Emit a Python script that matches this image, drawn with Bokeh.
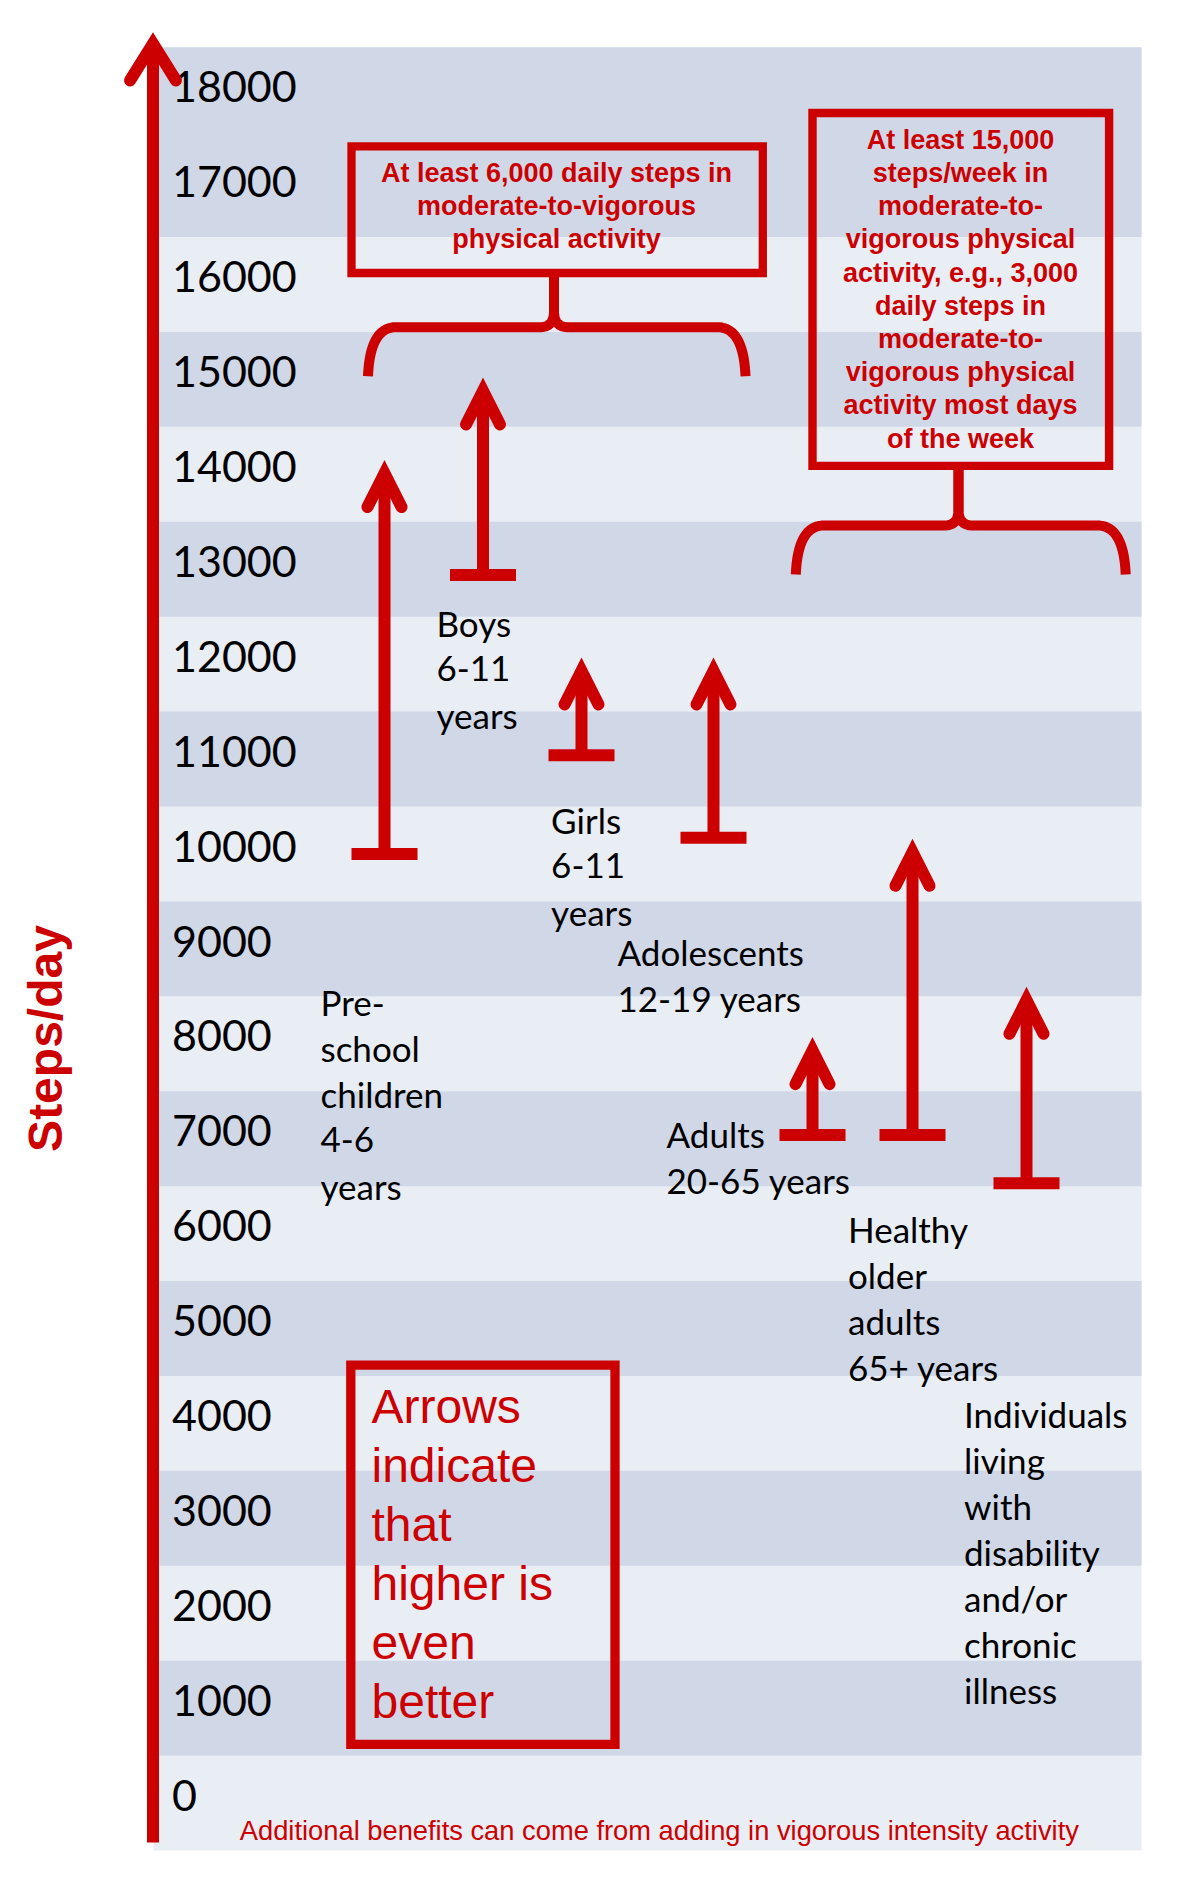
import numpy as np
from bokeh.plotting import figure
from bokeh.models import Range1d, ColumnDataSource
from bokeh.core.properties import value
from bokeh.embed import file_html
from bokeh.resources import INLINE

# ------------------------------------------------------------------ data
tick_values = list(range(0, 19000, 1000))
tick_labels = [str(v) for v in tick_values]

group_names = [
    "Pre-school children 4-6 years",
    "Boys 6-11 years",
    "Girls 6-11 years",
    "Adolescents 12-19 years",
    "Adults 20-65 years",
    "Healthy older adults 65+ years",
    "Individuals living with disability and/or chronic illness",
]
group_label_lines = [
    ["Pre-", "school", "children", "4-6", "years"],
    ["Boys", "6-11", "years"],
    ["Girls", "6-11", "years"],
    ["Adolescents", "12-19 years"],
    ["Adults", "20-65 years"],
    ["Healthy", "older", "adults", "65+ years"],
    ["Individuals", "living", "with", "disability", "and/or", "chronic", "illness"],
]
steps_low = [10000, 12940, 11040, 10170, 7040, 7040, 6530]
steps_high = [14150, 15020, 12070, 12070, 8070, 10160, 8600]

note_children = ["At least 6,000 daily steps in", "moderate-to-vigorous", "physical activity"]
note_adults = ["At least 15,000", "steps/week in", "moderate-to-", "vigorous physical",
               "activity, e.g., 3,000", "daily steps in", "moderate-to-",
               "vigorous physical", "activity most days", "of the week"]
note_arrows = ["Arrows", "indicate", "that", "higher is", "even", "better"]
footer_text = "Additional benefits can come from adding in vigorous intensity activity"
y_title = "Steps/day"

# ------------------------------------------------------------------ layout / style
RED = "#CC0000"
DARK = "#D0D8E8"
LIGHT = "#E9EDF4"
W, H = 1190, 1880
PX = 0.094911          # pixels per step
TOP = 46.7             # page pixel row of 18500 steps
K_LATO = 0.39          # baseline correction (fraction of font size)
K_LIB = 0.34


def Y(py):
    return 18500 - (py - TOP) / PX


def D(dp):
    return dp / PX


def TY(py, size, k):
    return Y(py - k * size)


p = figure(width=W, height=H, output_backend="svg", toolbar_location=None,
           x_range=Range1d(0, W), y_range=Range1d(Y(H), Y(0)),
           x_axis_location=None, y_axis_location=None, min_border=0)
p.xgrid.visible = False
p.ygrid.visible = False
p.outline_line_color = None
p.background_fill_color = "white"
p.border_fill_color = "white"

# bands
BAND_L, BAND_R = 153, 1141
p.quad(left=[BAND_L], right=[BAND_R], bottom=[tick_values[0] - 500],
       top=[tick_values[-1] + 500], color=LIGHT, line_color=None)
dark_vals = [v for v in tick_values if (v // 1000) % 2 == 1 or v == tick_values[-1]]
p.quad(left=BAND_L, right=BAND_R, bottom=[v - 500 for v in dark_vals],
       top=[v + 500 for v in dark_vals], color=DARK, line_color=None)

# tick labels
TS = 43
p.text(x=[171.5] * len(tick_values), y=[v - D(9) + D(K_LATO * TS) for v in tick_values],
       text=tick_labels, text_font=value("Lato"), text_font_size=f"{TS}px",
       text_color="black", text_baseline="alphabetic", text_align="left")

# big axis arrow
AX = 152.5
p.segment(x0=[AX], y0=[Y(1842)], x1=[AX], y1=[Y(43)], line_color=RED,
          line_width=12, line_cap="butt")
p.multi_line(xs=[[AX - 23, AX, AX + 23]], ys=[[Y(80), Y(43), Y(80)]],
             line_color=RED, line_width=12, line_join="miter", line_cap="round")
p.text(x=[61.5 - K_LIB * 48], y=[Y(1038)], text=[y_title], angle=np.pi / 2,
       text_font=value("Liberation Sans"), text_font_style="bold",
       text_font_size="48px", text_color=RED, text_align="center",
       text_baseline="alphabetic")

# group arrows
arrow_x = [384, 482.5, 581, 713, 812, 912, 1026]
apex = [v - D(13.3) for v in steps_high]
arm_y = [v - D(47) for v in steps_high]
src = ColumnDataSource(dict(x=arrow_x, lo=steps_low, apex=apex,
                            bl=[x - 33 for x in arrow_x], br=[x + 33 for x in arrow_x]))
p.segment(x0="bl", y0="lo", x1="br", y1="lo", source=src, line_color=RED,
          line_width=12, line_cap="butt")
p.segment(x0="x", y0="lo", x1="x", y1="apex", source=src, line_color=RED,
          line_width=12, line_cap="butt")
p.multi_line(xs=[[x - 17, x, x + 17] for x in arrow_x],
             ys=[[a, b, a] for a, b in zip(arm_y, apex)],
             line_color=RED, line_width=12, line_join="miter", line_cap="round")

# group labels
LS = 35
label_x = [320, 436, 550.6, 617, 666, 847.5, 963.5]
label_first = [1015, 636, 833, 965, 1147, 1242, 1427]
lx, ly, lt = [], [], []
for x0, y0, lines in zip(label_x, label_first, group_label_lines):
    for k, t in enumerate(lines):
        lx.append(x0)
        ly.append(TY(y0 + 46 * k, LS, K_LATO))
        lt.append(t)
p.text(x=lx, y=ly, text=lt, text_font=value("Lato"), text_font_size=f"{LS}px",
       text_color="black", text_baseline="alphabetic", text_align="left")

# boxes
p.quad(left=[351, 812, 350.3], right=[762.3, 1108.6, 614.5],
       top=[Y(145.8), Y(112.5), Y(1364.7)], bottom=[Y(272.5), Y(465.4), Y(1743.8)],
       fill_color=None, line_color=RED, line_width=[8.3, 8.4, 9.3], line_join="miter")


def qpts(p0, p1, p2, n=24):
    t = np.linspace(0, 1, n)[:, None]
    return (1 - t) ** 2 * np.array(p0) + 2 * (1 - t) * t * np.array(p1) + t ** 2 * np.array(p2)


def brace(xl, xr, xc, yh, ybot, ytop):
    xs, ys = [], []
    for xe, s in ((xl, 1), (xr, -1)):
        a = qpts((xe, ybot), (xe + 2 * s, yh), (xe + 28 * s, yh))
        b = qpts((xc - 14 * s, yh), (xc, yh), (xc, yh - 16))
        pts = np.vstack([a, b, [[xc, ytop]]])
        xs.append(list(pts[:, 0]))
        ys.append([Y(v) for v in pts[:, 1]])
    return xs, ys


bx1, by1 = brace(367.5, 745, 553.5, 326.7, 375.7, 272)
bx2, by2 = brace(795.3, 1125.2, 958, 525, 574, 465)
p.multi_line(xs=bx1 + bx2, ys=by1 + by2, line_color=RED, line_width=10,
             line_join="round", line_cap="butt")

# box texts
BS = 27
p.text(x=[556] * len(note_children),
       y=[TY(181.5 + 33 * k, BS, K_LIB) for k in range(len(note_children))],
       text=note_children, text_font=value("Liberation Sans"), text_font_style="bold",
       text_font_size=f"{BS}px", text_color=RED, text_align="center", text_baseline="alphabetic")
p.text(x=[960] * len(note_adults),
       y=[TY(148.5 + 33.2 * k, BS, K_LIB) for k in range(len(note_adults))],
       text=note_adults, text_font=value("Liberation Sans"), text_font_style="bold",
       text_font_size=f"{BS}px", text_color=RED, text_align="center", text_baseline="alphabetic")
AS = 48
p.text(x=[371] * len(note_arrows),
       y=[TY(1422.7 + 59 * k, AS, K_LIB) for k in range(len(note_arrows))],
       text=note_arrows, text_font=value("Liberation Sans"),
       text_font_size=f"{AS}px", text_color=RED, text_align="left", text_baseline="alphabetic")

# footer
FS = 27.3
p.text(x=[239.3], y=[TY(1839.3, FS, K_LIB)], text=[footer_text],
       text_font=value("Liberation Sans"), text_font_size=f"{FS}px", text_color=RED,
       text_align="left", text_baseline="alphabetic")

open("out.html", "w").write(file_html(p, INLINE))
